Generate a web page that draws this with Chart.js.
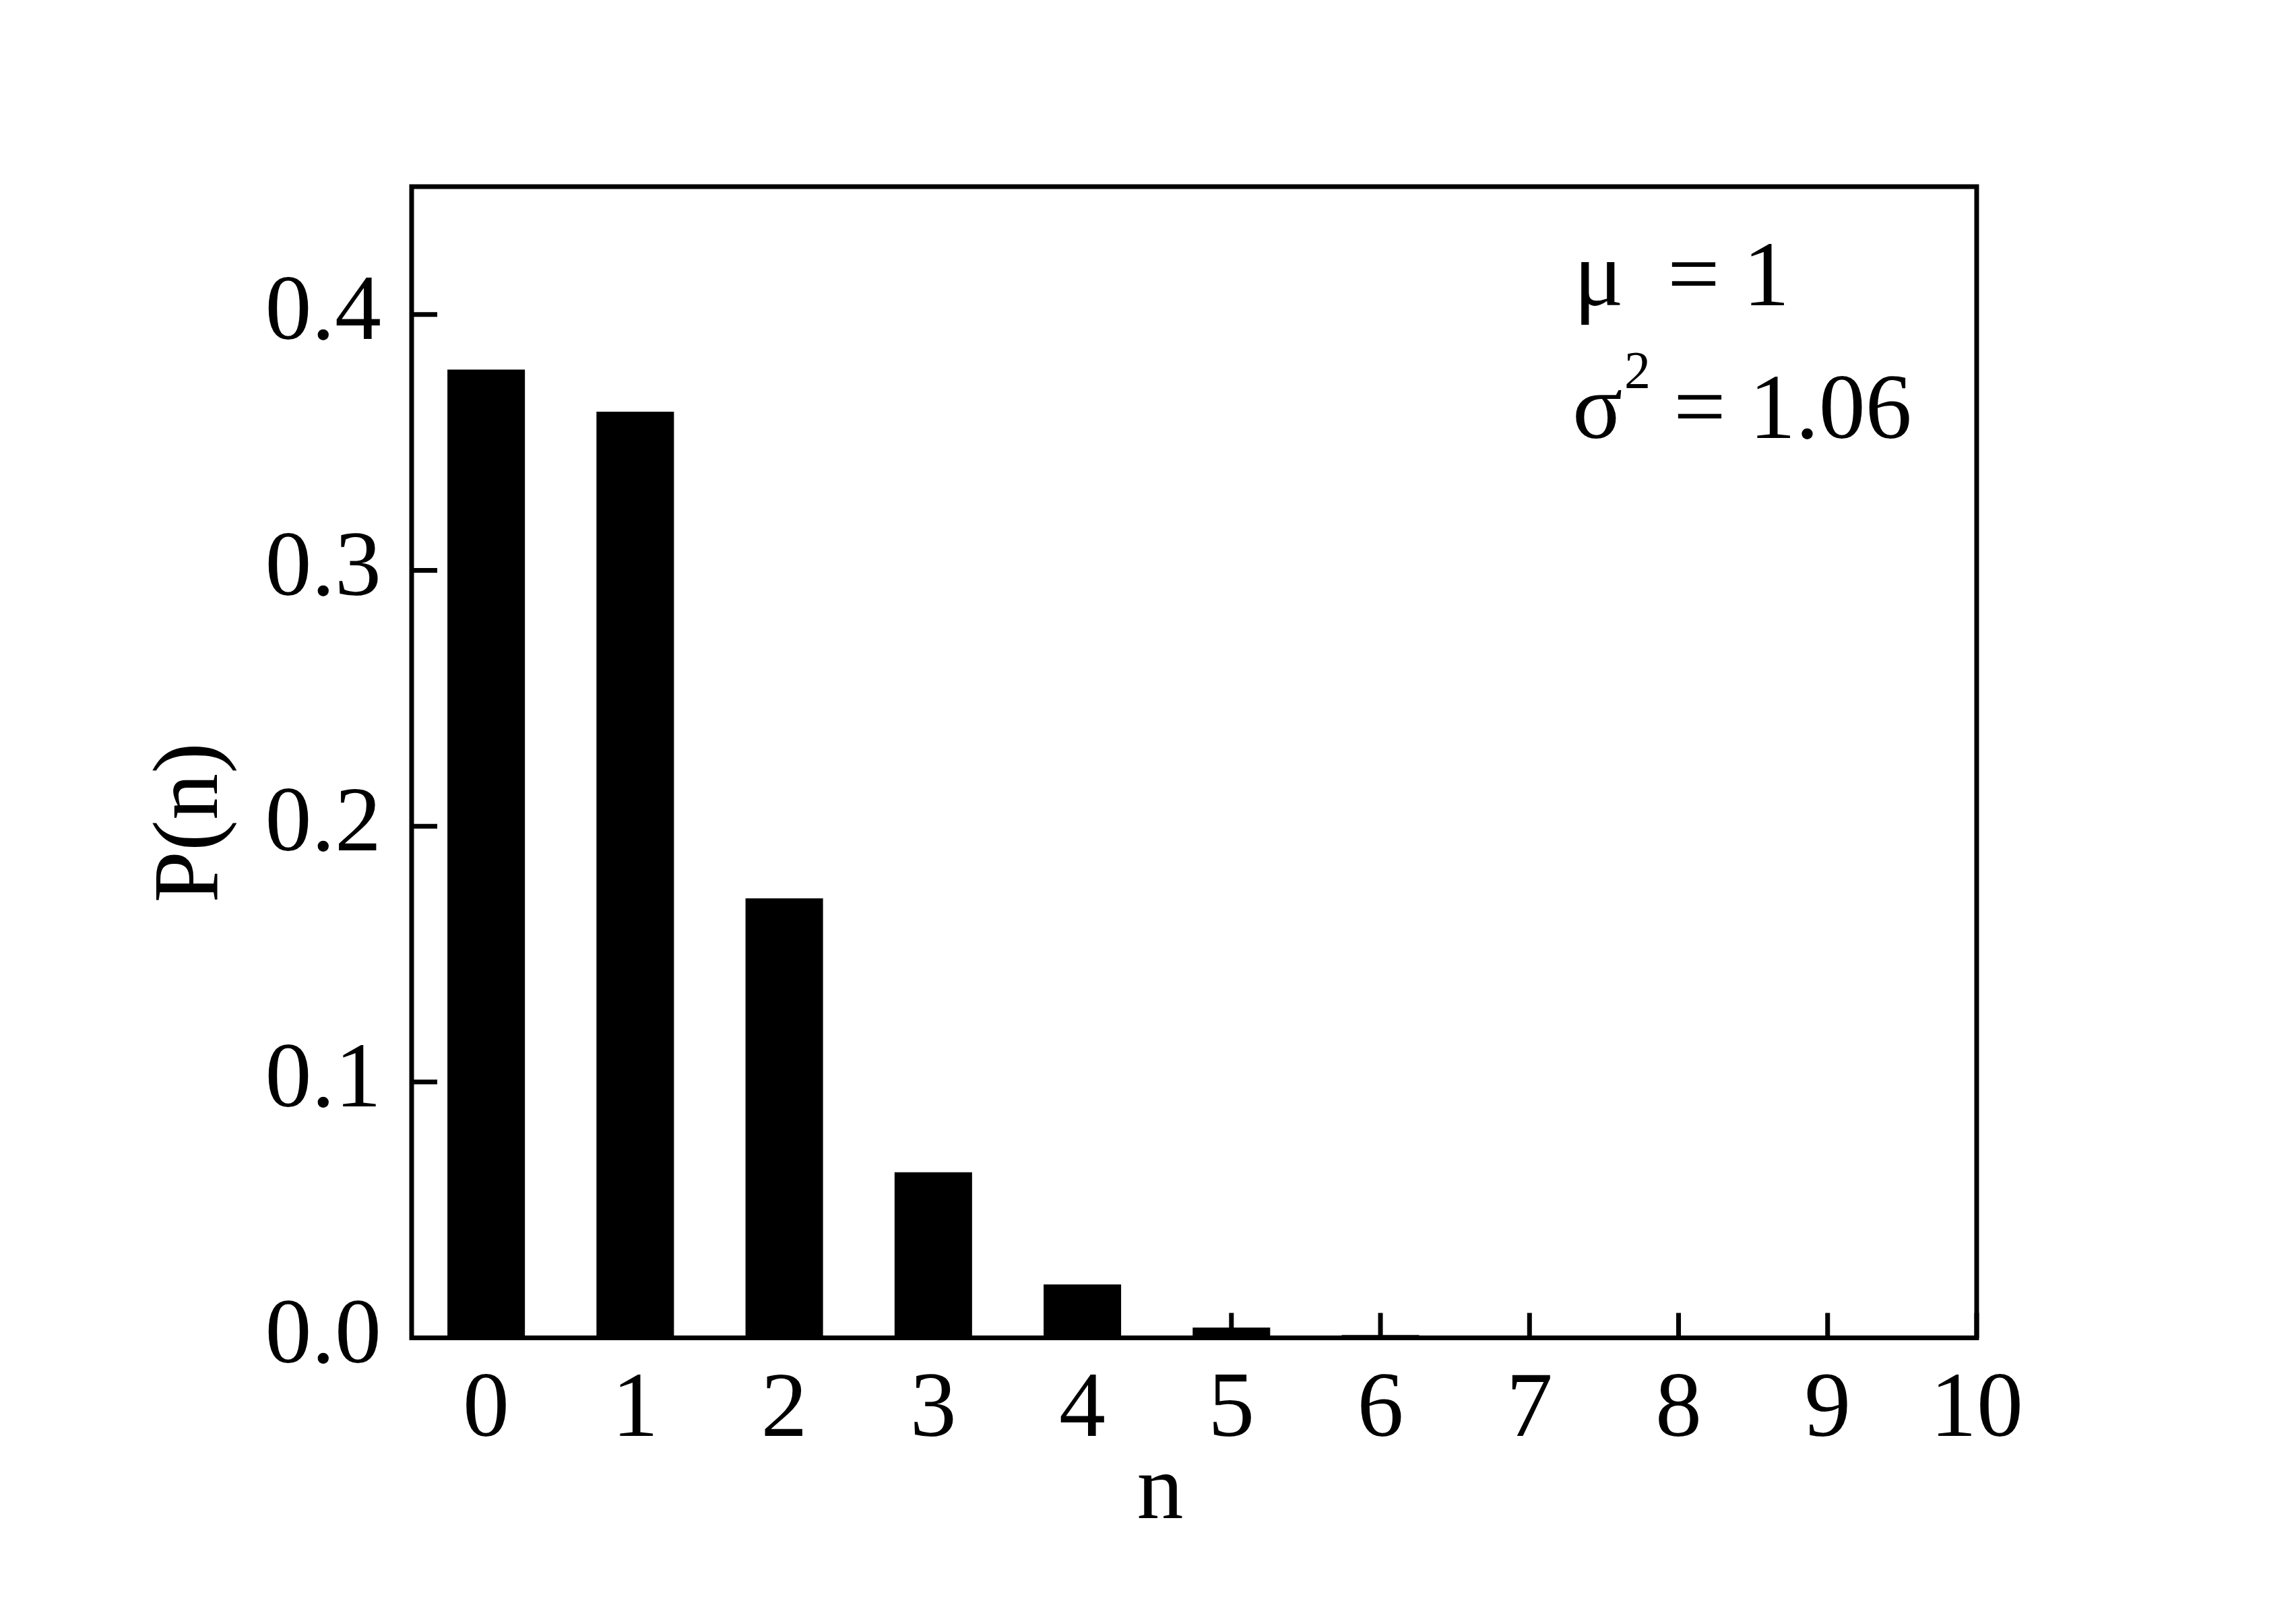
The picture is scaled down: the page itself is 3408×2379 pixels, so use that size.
<!DOCTYPE html>
<html>
<head>
<meta charset="utf-8">
<script src="https://cdn.jsdelivr.net/npm/chart.js@4.4.1/dist/chart.umd.min.js"></script>
<style>
  html, body { margin: 0; padding: 0; background: #ffffff; }
  #wrap { width: 3408px; height: 2379px; }
</style>
</head>
<body>
<div id="wrap"><canvas id="c" width="3408" height="2379"></canvas></div>
<script>
// ---- data ----
const categories = [0, 1, 2, 3, 4, 5, 6, 7, 8, 9, 10];
const probabilities = [0.3785, 0.3620, 0.1718, 0.0647, 0.0209, 0.0040, 0.0011, 0.0002, 0, 0, 0];
const xTickValues = [0, 1, 2, 3, 4, 5, 6, 7, 8, 9, 10];
const yTickValues = [0.0, 0.1, 0.2, 0.3, 0.4];
const xTitle = 'n';
const yTitle = 'P(n)';
const muLabel = 'μ';
const muValueText = '= 1';
const sigmaLabel = 'σ';
const sigmaSup = '2';
const sigmaValueText = '= 1.06';

const FONT = '"Liberation Serif", "Times New Roman", serif';
const FS = 138;
const LW = 7;

const framePlugin = {
  id: 'frame',
  afterDraw(chart) {
    const { ctx, chartArea: a, scales: { x, y } } = chart;
    ctx.save();
    ctx.strokeStyle = '#000';
    ctx.lineWidth = LW;
    ctx.lineJoin = 'miter';
    ctx.strokeRect(a.left, a.top, a.right - a.left, a.bottom - a.top);
    ctx.beginPath();
    x.ticks.forEach(t => {
      const px = x.getPixelForValue(t.value);
      ctx.moveTo(px, a.bottom);
      ctx.lineTo(px, a.bottom - 37);
    });
    y.ticks.forEach(t => {
      const py = y.getPixelForValue(t.value);
      ctx.moveTo(a.left, py);
      ctx.lineTo(a.left + 38, py);
    });
    ctx.stroke();

    ctx.fillStyle = '#000';
    // x title
    ctx.font = FS + 'px ' + FONT;
    ctx.textAlign = 'center';
    ctx.textBaseline = 'alphabetic';
    ctx.fillText(xTitle, a.left + (a.right - a.left) * 0.4783, a.bottom + 267);
    // y title
    ctx.save();
    ctx.translate(a.left - 289, a.top + (a.bottom - a.top) * 0.5525);
    ctx.rotate(-Math.PI / 2);
    ctx.fillText(yTitle, 0, 0);
    ctx.restore();

    // annotation
    ctx.textAlign = 'left';
    ctx.fillText(muLabel, a.right - 598, a.top + 176);
    ctx.fillText(muValueText, a.right - 459, a.top + 176);
    ctx.fillText(sigmaLabel, a.right - 600, a.top + 373);
    ctx.fillText(sigmaValueText, a.right - 450, a.top + 373);
    ctx.font = '78px ' + FONT;
    ctx.fillText(sigmaSup, a.right - 523, a.top + 298);
    ctx.restore();
  }
};

new Chart(document.getElementById('c'), {
  type: 'bar',
  data: {
    labels: categories,
    datasets: [{
      data: probabilities,
      backgroundColor: '#000000',
      borderWidth: 0,
      categoryPercentage: 1.0,
      barPercentage: 0.52
    }]
  },
  options: {
    responsive: false,
    devicePixelRatio: 1,
    animation: false,
    layout: { padding: { top: 277, right: 474, left: 0, bottom: 0 } },
    plugins: { legend: { display: false }, tooltip: { enabled: false } },
    scales: {
      x: {
        type: 'linear',
        min: -0.5,
        max: 10,
        offset: false,
        afterBuildTicks: s => { s.ticks = xTickValues.map(v => ({ value: v })); },
        afterFit: s => { s.height = 393.5; },
        grid: { display: false, drawTicks: false },
        border: { display: false },
        ticks: {
          autoSkip: false,
          maxRotation: 0,
          padding: 26,
          color: '#000',
          font: { family: FONT, size: FS },
          callback: v => String(v)
        }
      },
      y: {
        type: 'linear',
        min: 0,
        max: 0.45,
        afterBuildTicks: s => { s.ticks = yTickValues.map(v => ({ value: v })); },
        afterFit: s => { s.width = 611; },
        grid: { display: false, drawTicks: false },
        border: { display: false },
        ticks: {
          padding: 45,
          color: '#000',
          font: { family: FONT, size: FS },
          callback: v => Number(v).toFixed(1)
        }
      }
    }
  },
  plugins: [framePlugin]
});
</script>
</body>
</html>
